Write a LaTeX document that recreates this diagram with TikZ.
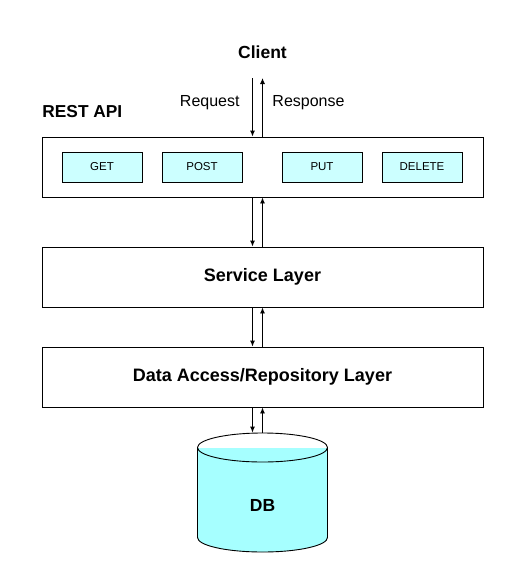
\documentclass[tikz,border=0pt]{standalone}
\usepackage{fontspec}
\setmainfont{Liberation Sans}
\usetikzlibrary{arrows.meta}
\definecolor{btncyan}{HTML}{CCFFFF}
\definecolor{dbcyan}{HTML}{A6FFFF}
\begin{document}
\begin{tikzpicture}[
		x=1pt, y=-1pt,
		line width=0.9pt,
		every node/.style={inner sep=0pt},
		layer/.style={rectangle, draw, minimum width=441pt, minimum height=60pt, font=\fontsize{18}{21}\selectfont\bfseries},
		method/.style={rectangle, draw, fill=btncyan, minimum width=80pt, minimum height=30pt, font=\fontsize{11.5}{14}\selectfont},
		flow/.style={-{Latex[length=6pt,width=5pt]}}
	]
  \useasboundingbox (0,0) rectangle (523,581);
  \node (client) [font=\fontsize{17.5}{20}\selectfont\bfseries] at (262.5, 52) {Client};
  \node (rest_label) [font=\fontsize{17.3}{20}\selectfont\bfseries, anchor=west] at (42, 112) {REST API};
  \node (rest) [layer] at (262.5, 167) {};
  \node (get) [method] at (102, 167) {GET};
  \node (post) [method] at (202, 167) {POST};
  \node (put) [method] at (322, 167) {PUT};
  \node (delete) [method] at (422, 167) {DELETE};
  \node (service) [layer] at (262.5, 277) {Service Layer};
  \node (data_layer) [layer] at (262.5, 377) {Data Access/Repository Layer};
  % database cylinder
  \fill[dbcyan] (262.5, 537.5) ellipse [x radius=65pt, y radius=14.5pt];
  \fill[dbcyan] (197.5, 447.5) rectangle (327.5, 537.5);
  \begin{scope}
    \clip (190, 537.5) rectangle (335, 560);
    \draw (262.5, 537.5) ellipse [x radius=65pt, y radius=14.5pt];
  \end{scope}
  \draw (197.5, 447.5) -- (197.5, 537.5) (327.5, 447.5) -- (327.5, 537.5);
  \draw (262.5, 447.5) ellipse [x radius=65pt, y radius=14.5pt];
  \node (db) [minimum width=130pt, minimum height=119pt] at (262.5, 492.5) {};
  \node (db_label) [font=\fontsize{17.5}{20}\selectfont\bfseries] at (262.5, 505) {DB};
  \coordinate (req_top) at (252.5, 78);
  \coordinate (resp_top) at (262.5, 78);
  \node (request) [font=\fontsize{16}{19}\selectfont, anchor=east] at (240, 103) {Request};
  \node (response) [font=\fontsize{16}{19}\selectfont, anchor=west] at (272, 103) {Response};
  \draw[flow] (req_top) -- (req_top |- rest.north);
  \draw[flow] (resp_top |- rest.north) -- (resp_top);
  \draw[flow] (req_top |- rest.south) -- (req_top |- service.north);
  \draw[flow] (resp_top |- service.north) -- (resp_top |- rest.south);
  \draw[flow] (req_top |- service.south) -- (req_top |- data_layer.north);
  \draw[flow] (resp_top |- data_layer.north) -- (resp_top |- service.south);
  \draw[flow] (req_top |- data_layer.south) -- (req_top |- db.north);
  \draw[flow] (db.north) -- (resp_top |- data_layer.south);
\end{tikzpicture}
\end{document}
